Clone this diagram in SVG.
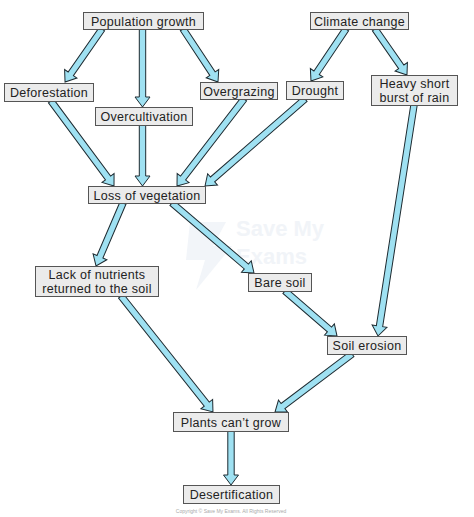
<svg xmlns="http://www.w3.org/2000/svg" width="474" height="517" viewBox="0 0 474 517">
<style>
.box{fill:#ebebeb;stroke:#555;stroke-width:1}
.t{font-family:"Liberation Sans",Arial,sans-serif;font-size:12.5px;fill:#222;text-anchor:middle;letter-spacing:0.3px}
.arr{fill:#9fe1f2;stroke:#1d2a30;stroke-width:1;stroke-linejoin:miter}
.wm{font-family:"Liberation Sans",Arial,sans-serif;font-size:22px;font-weight:bold;fill:#f1f4f8}
.cp{font-family:"Liberation Sans",Arial,sans-serif;font-size:5px;fill:#aaa;text-anchor:middle}
</style>
<rect width="474" height="517" fill="#fff"/>
<g id="watermark">
<path d="M190,222 L226,222 L213,246 L232,246 L196,290 L205,260 L186,260 Z" fill="#f2f5f9"/>
<text class="wm" x="236" y="236">Save My</text>
<text class="wm" x="236" y="264">Exams</text>
</g>
<g id="connectors">
<path class="arr" transform="translate(102,29) rotate(124.9)" d="M0,-3.2 H54.6 V-7.5 L64.6,0 L54.6,7.5 V3.2 H0 Z"/>
<path class="arr" transform="translate(142.5,29) rotate(90)" d="M0,-3.2 H68 V-7.5 L78,0 L68,7.5 V3.2 H0 Z"/>
<path class="arr" transform="translate(183,29) rotate(56.56)" d="M0,-3.2 H53.5 V-7.5 L63.5,0 L53.5,7.5 V3.2 H0 Z"/>
<path class="arr" transform="translate(51,101) rotate(53.45)" d="M0,-3.2 H95.8 V-7.5 L105.8,0 L95.8,7.5 V3.2 H0 Z"/>
<path class="arr" transform="translate(142.5,125) rotate(90)" d="M0,-3.2 H51 V-7.5 L61,0 L51,7.5 V3.2 H0 Z"/>
<path class="arr" transform="translate(244,99) rotate(127.6)" d="M0,-3.2 H99.8 V-7.5 L109.8,0 L99.8,7.5 V3.2 H0 Z"/>
<path class="arr" transform="translate(305,99) rotate(138.98)" d="M0,-3.2 H122.5 V-7.5 L132.5,0 L122.5,7.5 V3.2 H0 Z"/>
<path class="arr" transform="translate(346,29) rotate(123.94)" d="M0,-3.2 H52.7 V-7.5 L62.7,0 L52.7,7.5 V3.2 H0 Z"/>
<path class="arr" transform="translate(375,29) rotate(55.18)" d="M0,-3.2 H46 V-7.5 L56,0 L46,7.5 V3.2 H0 Z"/>
<path class="arr" transform="translate(414,105) rotate(98.86)" d="M0,-3.2 H223.8 V-7.5 L233.8,0 L223.8,7.5 V3.2 H0 Z"/>
<path class="arr" transform="translate(123,203) rotate(113.2)" d="M0,-3.2 H58.5 V-7.5 L68.5,0 L58.5,7.5 V3.2 H0 Z"/>
<path class="arr" transform="translate(172,203) rotate(40.49)" d="M0,-3.2 H97.8 V-7.5 L107.8,0 L97.8,7.5 V3.2 H0 Z"/>
<path class="arr" transform="translate(285,291) rotate(40.87)" d="M0,-3.2 H58.8 V-7.5 L68.8,0 L58.8,7.5 V3.2 H0 Z"/>
<path class="arr" transform="translate(121,296) rotate(51.58)" d="M0,-3.2 H138 V-7.5 L148,0 L138,7.5 V3.2 H0 Z"/>
<path class="arr" transform="translate(352,354) rotate(143.01)" d="M0,-3.2 H86.4 V-7.5 L96.4,0 L86.4,7.5 V3.2 H0 Z"/>
<path class="arr" transform="translate(231,431) rotate(90)" d="M0,-3.2 H44 V-7.5 L54,0 L44,7.5 V3.2 H0 Z"/>
</g>
<g id="population-growth"><rect class="box" x="83.5" y="12.5" width="120" height="17"/><text class="t" x="143.5" y="25.5">Population growth</text></g>
<g id="climate-change"><rect class="box" x="310.5" y="12.5" width="98" height="17"/><text class="t" x="359.5" y="25.5">Climate change</text></g>
<g id="deforestation"><rect class="box" x="4.5" y="83.5" width="89" height="18"/><text class="t" x="49" y="97">Deforestation</text></g>
<g id="overcultivation"><rect class="box" x="95.5" y="107.5" width="97" height="18"/><text class="t" x="144" y="121">Overcultivation</text></g>
<g id="overgrazing"><rect class="box" x="200.5" y="82.5" width="77" height="17"/><text class="t" x="239" y="95.5">Overgrazing</text></g>
<g id="drought"><rect class="box" x="286.5" y="81.5" width="57" height="18"/><text class="t" x="315" y="95">Drought</text></g>
<g id="heavy-rain"><rect class="box" x="371.5" y="75.5" width="86" height="30"/><text class="t" x="414.5" y="88">Heavy short</text><text class="t" x="414.5" y="101.5">burst of rain</text></g>
<g id="loss-of-vegetation"><rect class="box" x="88.5" y="186.5" width="117" height="17"/><text class="t" x="147" y="199.5">Loss of vegetation</text></g>
<g id="lack-of-nutrients"><rect class="box" x="35.5" y="266.5" width="123" height="30"/><text class="t" x="97" y="279">Lack of nutrients</text><text class="t" x="97" y="292.5">returned to the soil</text></g>
<g id="bare-soil"><rect class="box" x="248.5" y="273.5" width="63" height="18"/><text class="t" x="280" y="287">Bare soil</text></g>
<g id="soil-erosion"><rect class="box" x="327.5" y="336.5" width="79" height="18"/><text class="t" x="367" y="350">Soil erosion</text></g>
<g id="plants-cant-grow"><rect class="box" x="173.5" y="412.5" width="115" height="19"/><text class="t" x="231" y="426.5">Plants can’t grow</text></g>
<g id="desertification"><rect class="box" x="183.5" y="485.5" width="96" height="18"/><text class="t" x="231.5" y="499">Desertification</text></g>
<text class="cp" x="231" y="513">Copyright © Save My Exams. All Rights Reserved</text>
</svg>
